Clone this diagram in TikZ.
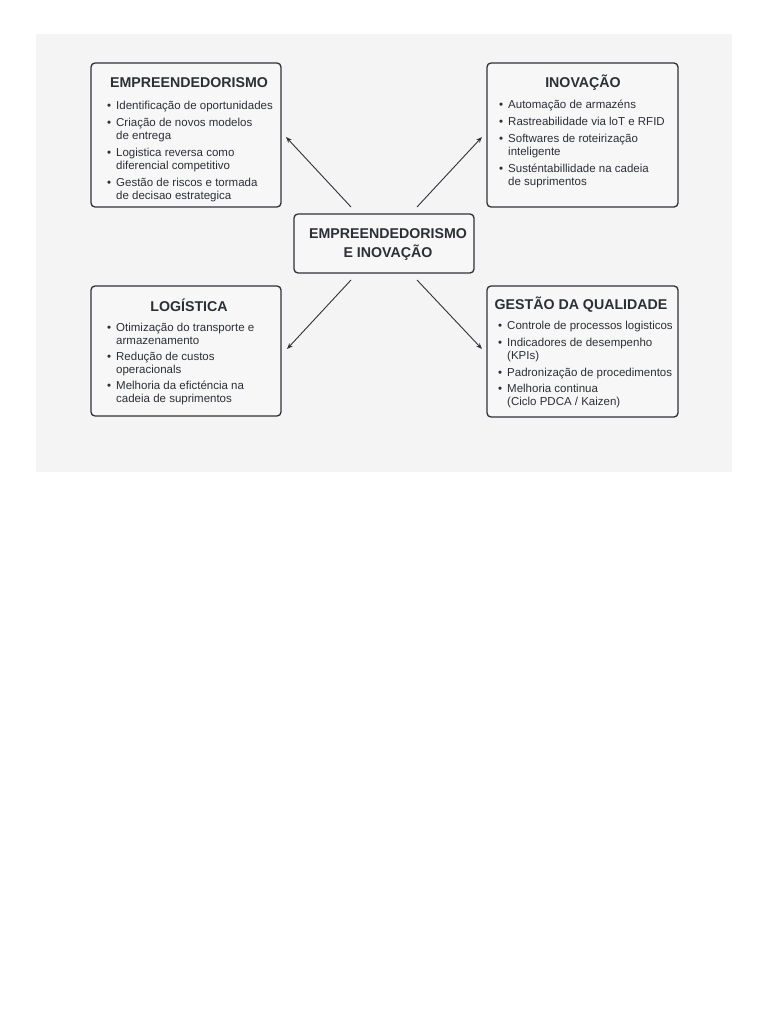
\documentclass[tikz,border=0pt]{standalone}
\usepackage{fontspec}
\setmainfont{Liberation Sans}
\usetikzlibrary{arrows.meta}
\definecolor{bgc}{HTML}{F4F4F4}
\definecolor{boxc}{HTML}{F7F7F7}
\definecolor{bordc}{HTML}{2E3238}
\definecolor{txt}{HTML}{2B2F36}
\newcommand{\bitem}{\llap{\textbullet\hspace{5pt}}}
\begin{document}
\begin{tikzpicture}[x=1pt,y=-1pt,
  box/.style={draw=bordc, fill=boxc, line width=1.3pt, rounded corners=4pt, inner sep=0pt},
  ttl/.style={font=\fontsize{14.2}{19}\selectfont\bfseries, text=txt, inner sep=0pt, align=center},
  lst/.style={font=\fontsize{11.5}{13}\selectfont, text=txt, inner sep=0pt, anchor=north west, align=left},
  arr/.style={draw=bordc, line width=0.9pt, -{Stealth[length=6pt,width=4.5pt]}}]
\useasboundingbox (0,0) rectangle (768,1024);
\fill[white] (0,0) rectangle (768,1024);
\fill[bgc] (36,34) rectangle (732,472);
% boxes
\node[box, minimum width=190pt, minimum height=144pt] (tl) at (186,135) {};
\node[box, minimum width=191pt, minimum height=144pt] (tr) at (582.5,135) {};
\node[box, minimum width=190pt, minimum height=130pt] (bl) at (186,351) {};
\node[box, minimum width=191pt, minimum height=131pt] (br) at (582.5,351.5) {};
\node[box, minimum width=180pt, minimum height=59pt] (c) at (384,243.5) {};
% titles
\node[ttl] (tlt) at (189,83) {EMPREENDEDORISMO};
\node[ttl] (trt) at (583,83) {INOVAÇÃO};
\node[ttl] (blt) at (189,305) {LOGÍSTICA};
\node[ttl] (brt) at (581,305) {GESTÃO DA QUALIDADE};
\node[ttl] (ct) at (388,244.5) {EMPREENDEDORISMO\\E INOVAÇÃO};
% lists
\node[lst] (tll) at (116,100.5) {\bitem Identificação de oportunidades\\[4pt]
\bitem Criação de novos modelos\\de entrega\\[4pt]
\bitem Logistica reversa como\\diferencial competitivo\\[4pt]
\bitem Gestão de riscos e tormada\\de decisao estrategica};
\node[lst] (trl) at (508,99.5) {\bitem Automação de armazéns\\[4pt]
\bitem Rastreabilidade via loT e RFID\\[4pt]
\bitem Softwares de roteirização\\inteligente\\[4pt]
\bitem Susténtabillidade na cadeia\\de suprimentos};
\node[lst] (bll) at (116,322.5) {\bitem Otimização do transporte e\\armazenamento\\[3pt]
\bitem Redução de custos\\operacionals\\[3pt]
\bitem Melhoria da eficténcia na\\cadeia de suprimentos};
\node[lst] (brl) at (507,320.5) {\bitem Controle de processos logisticos\\[4pt]
\bitem Indicadores de desempenho\\(KPIs)\\[4pt]
\bitem Padronização de procedimentos\\[3pt]
\bitem Melhoria continua\\(Ciclo PDCA / Kaizen)};
% arrows
\coordinate (s1) at (351,207);
\coordinate (e1) at (286,137);
\coordinate (s2) at (417,207);
\coordinate (e2) at (482,137);
\coordinate (s3) at (351,280);
\coordinate (e3) at (287,349);
\coordinate (s4) at (417,280);
\coordinate (e4) at (482,349);
\draw[arr] (s1) -- (e1);
\draw[arr] (s2) -- (e2);
\draw[arr] (s3) -- (e3);
\draw[arr] (s4) -- (e4);
\end{tikzpicture}
\end{document}
